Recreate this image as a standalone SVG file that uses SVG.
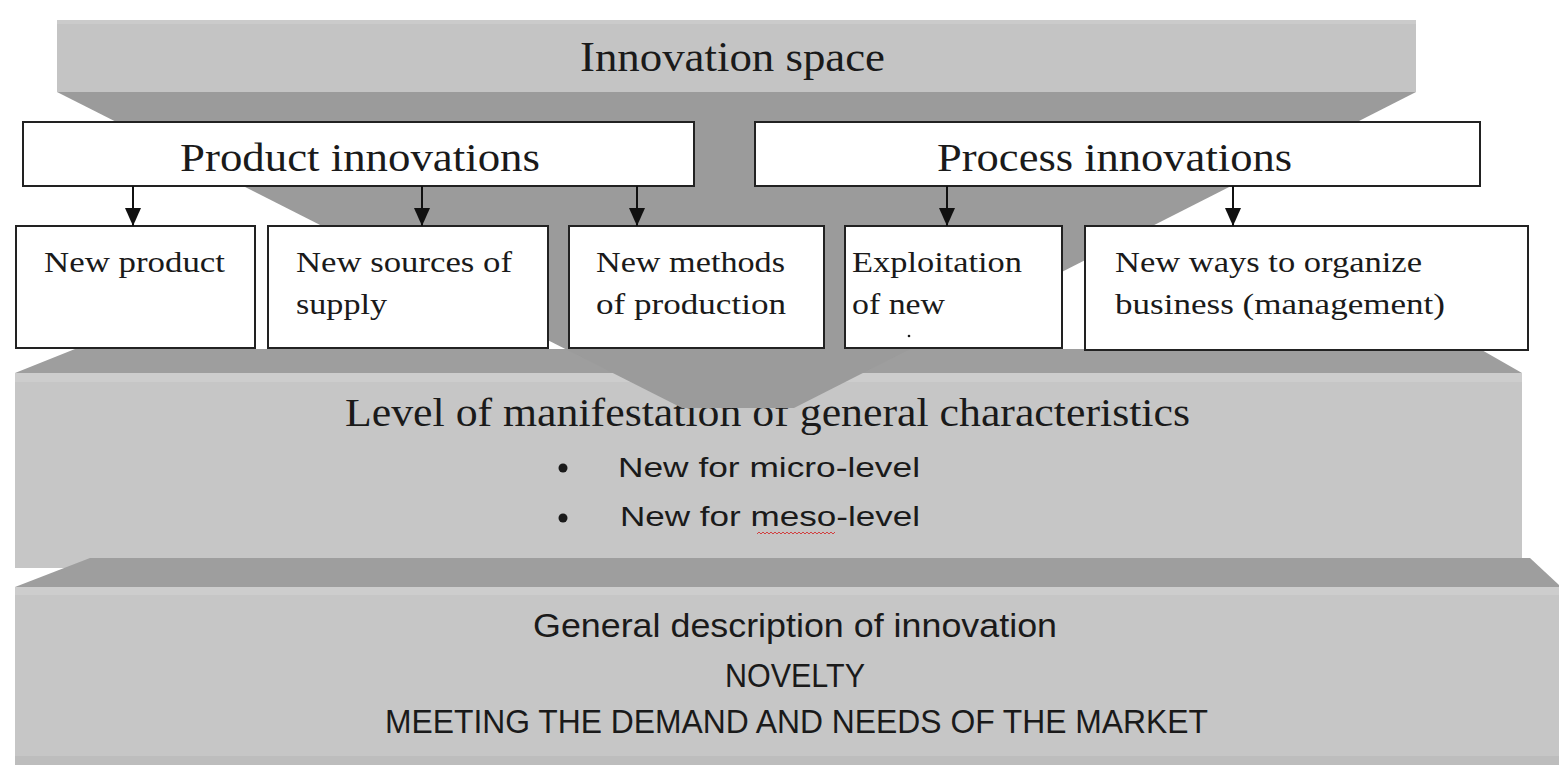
<svg xmlns="http://www.w3.org/2000/svg" width="1559" height="765" viewBox="0 0 1559 765">
  <style>
    .face { fill: #c6c6c6; }
    .bevel { fill: #9e9e9e; }
    .box { fill: #ffffff; stroke: #222222; stroke-width: 2; }
    .serif { font-family: "Liberation Serif", "Times New Roman", serif; fill: #1a1a1a; }
    .sans { font-family: "Liberation Sans", Arial, sans-serif; fill: #1a1a1a; }
    .conn { stroke: #111111; stroke-width: 2; fill: none; }
  </style>
  <defs>
    <marker id="arrow" markerUnits="userSpaceOnUse" markerWidth="18" markerHeight="16" refX="18" refY="8" orient="auto">
      <path d="M0,0 L18,8 L0,16 z" fill="#111111"/>
    </marker>
  </defs>
  <rect x="0" y="0" width="1559" height="765" fill="#ffffff"/>

  <!-- middle band: level of manifestation -->
  <g id="level-band">
    <polygon class="bevel" points="75,349 1480,349 1522,373 15,373"/>
    <rect class="face" x="15" y="373" width="1507" height="195"/>
    <rect x="15" y="373" width="1507" height="9" fill="#cdcdcd"/>
    <text class="serif" x="345" y="426" font-size="41" textLength="845" lengthAdjust="spacingAndGlyphs">Level of manifestation of general characteristics</text>
    <circle cx="563" cy="468" r="4.5" fill="#1a1a1a"/>
    <text class="sans" x="618" y="477" font-size="28" textLength="302" lengthAdjust="spacingAndGlyphs">New for micro-level</text>
    <circle cx="563" cy="518" r="4.5" fill="#1a1a1a"/>
    <text class="sans" x="620" y="526" font-size="28" textLength="300" lengthAdjust="spacingAndGlyphs">New for meso-level</text>
    <path d="M757,534 l2,-2 l2,2 l2,-2 l2,2 l2,-2 l2,2 l2,-2 l2,2 l2,-2 l2,2 l2,-2 l2,2 l2,-2 l2,2 l2,-2 l2,2 l2,-2 l2,2 l2,-2 l2,2 l2,-2 l2,2 l2,-2 l2,2 l2,-2 l2,2 l2,-2 l2,2 l2,-2 l2,2 l2,-2 l2,2 l2,-2 l2,2 l2,-2 l2,2 l2,-2 l2,2 l2,-2" stroke="#d04040" stroke-width="1" fill="none"/>
  </g>

  <!-- bottom band: general description -->
  <g id="general-band">
    <polygon class="bevel" points="90,558 1530,558 1559,585 1559,587 15,587"/>
    <rect class="face" x="15" y="587" width="1544" height="178"/>
    <rect x="15" y="587" width="1544" height="8" fill="#cdcdcd"/>
    <rect x="15" y="756" width="1544" height="9" fill="#bdbdbd"/>
    <text class="sans" x="533" y="637" font-size="33" textLength="524" lengthAdjust="spacingAndGlyphs">General description of innovation</text>
    <text class="sans" x="725" y="687" font-size="33" textLength="140" lengthAdjust="spacingAndGlyphs">NOVELTY</text>
    <text class="sans" x="385" y="733" font-size="33" textLength="823" lengthAdjust="spacingAndGlyphs">MEETING THE DEMAND AND NEEDS OF THE MARKET</text>
  </g>

  <!-- top band with downward arrow -->
  <g id="innovation-space">
    <polygon fill="#9b9b9b" points="57,92 1416,92 794,408 682,408"/>
    <rect x="57" y="20" width="1359" height="72" fill="#c4c4c4"/>
    <rect x="57" y="20" width="1359" height="4" fill="#cbcbcb"/>
    <text class="serif" x="580" y="71" font-size="43" textLength="305" lengthAdjust="spacingAndGlyphs">Innovation space</text>
  </g>

  <g id="product-innovations">
    <rect class="box" x="23" y="122" width="671" height="64"/>
    <text class="serif" x="180" y="171" font-size="41" textLength="360" lengthAdjust="spacingAndGlyphs">Product innovations</text>
  </g>
  <g id="process-innovations">
    <rect class="box" x="755" y="122" width="725" height="64"/>
    <text class="serif" x="937" y="171" font-size="41" textLength="355" lengthAdjust="spacingAndGlyphs">Process innovations</text>
  </g>

  <g id="new-product">
    <rect class="box" x="16" y="226" width="239" height="122"/>
    <text class="serif" x="44" y="272" font-size="29" textLength="181" lengthAdjust="spacingAndGlyphs">New product</text>
  </g>
  <g id="new-sources">
    <rect class="box" x="268" y="226" width="280" height="122"/>
    <text class="serif" x="296" y="272" font-size="29" textLength="216" lengthAdjust="spacingAndGlyphs">New sources of</text>
    <text class="serif" x="296" y="314" font-size="29" textLength="91" lengthAdjust="spacingAndGlyphs">supply</text>
  </g>
  <g id="new-methods">
    <rect class="box" x="569" y="226" width="255" height="122"/>
    <text class="serif" x="596" y="272" font-size="29" textLength="189" lengthAdjust="spacingAndGlyphs">New methods</text>
    <text class="serif" x="596" y="314" font-size="29" textLength="190" lengthAdjust="spacingAndGlyphs">of production</text>
  </g>
  <g id="exploitation">
    <rect class="box" x="845" y="226" width="217" height="122"/>
    <text class="serif" x="852" y="272" font-size="29" textLength="170" lengthAdjust="spacingAndGlyphs">Exploitation</text>
    <text class="serif" x="852" y="314" font-size="29" textLength="93" lengthAdjust="spacingAndGlyphs">of new</text>
    <circle cx="909" cy="336" r="1.3" fill="#1a1a1a"/>
  </g>
  <g id="new-ways">
    <rect class="box" x="1085" y="226" width="443" height="124"/>
    <text class="serif" x="1115" y="272" font-size="29" textLength="307" lengthAdjust="spacingAndGlyphs">New ways to organize</text>
    <text class="serif" x="1115" y="314" font-size="29" textLength="330" lengthAdjust="spacingAndGlyphs">business (management)</text>
  </g>

  <g id="connectors">
    <line class="conn" x1="133" y1="186" x2="133" y2="226" marker-end="url(#arrow)"/>
    <line class="conn" x1="422" y1="186" x2="422" y2="226" marker-end="url(#arrow)"/>
    <line class="conn" x1="637" y1="186" x2="637" y2="226" marker-end="url(#arrow)"/>
    <line class="conn" x1="947" y1="186" x2="947" y2="226" marker-end="url(#arrow)"/>
    <line class="conn" x1="1233" y1="186" x2="1233" y2="226" marker-end="url(#arrow)"/>
  </g>
</svg>
